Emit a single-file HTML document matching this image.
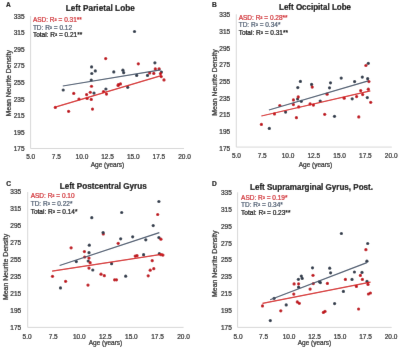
<!DOCTYPE html>
<html><head><meta charset="utf-8"><style>
html,body{margin:0;padding:0;background:#fff;width:400px;height:348px;overflow:hidden}
svg{display:block;font-family:'Liberation Sans',sans-serif;will-change:transform}
text{font-family:'Liberation Sans',sans-serif}
</style></head><body>
<svg width="400" height="348" viewBox="0 0 400 348">
<defs><filter id="bl" x="0" y="0" width="400" height="348" filterUnits="userSpaceOnUse"><feConvolveMatrix order="3" kernelMatrix="0 1 0 1 16 1 0 1 0" divisor="20" edgeMode="duplicate"/></filter></defs>
<g filter="url(#bl)">
<rect width="400" height="348" fill="#fff"/>
<text x="6.0" y="7.4" font-size="6.6" font-weight="bold" fill="#000" stroke="#000" stroke-width="0.15">A</text>
<text x="100.25" y="10.5" font-size="8.8" font-weight="bold" fill="#000" stroke="#000" stroke-width="0.2" text-anchor="middle" textLength="69" lengthAdjust="spacingAndGlyphs">Left Parietal Lobe</text>
<line x1="30.6" y1="16" x2="30.6" y2="148.5" stroke="#d4d4d4" stroke-width="0.9"/>
<line x1="30.6" y1="148.5" x2="184" y2="148.5" stroke="#d4d4d4" stroke-width="0.9"/>
<text x="24.6" y="18.63" font-size="6.5" fill="#222222" stroke="#222222" stroke-width="0.22" text-anchor="end">335</text>
<text x="24.6" y="35.22" font-size="6.5" fill="#222222" stroke="#222222" stroke-width="0.22" text-anchor="end">315</text>
<text x="24.6" y="51.81" font-size="6.5" fill="#222222" stroke="#222222" stroke-width="0.22" text-anchor="end">295</text>
<text x="24.6" y="68.40" font-size="6.5" fill="#222222" stroke="#222222" stroke-width="0.22" text-anchor="end">275</text>
<text x="24.6" y="84.99" font-size="6.5" fill="#222222" stroke="#222222" stroke-width="0.22" text-anchor="end">255</text>
<text x="24.6" y="101.58" font-size="6.5" fill="#222222" stroke="#222222" stroke-width="0.22" text-anchor="end">235</text>
<text x="24.6" y="118.17" font-size="6.5" fill="#222222" stroke="#222222" stroke-width="0.22" text-anchor="end">215</text>
<text x="24.6" y="134.76" font-size="6.5" fill="#222222" stroke="#222222" stroke-width="0.22" text-anchor="end">195</text>
<text x="24.6" y="151.35" font-size="6.5" fill="#222222" stroke="#222222" stroke-width="0.22" text-anchor="end">175</text>
<text x="30.65" y="159.13" font-size="6.5" fill="#222222" stroke="#222222" stroke-width="0.22" text-anchor="middle">5.0</text>
<text x="56.29" y="159.13" font-size="6.5" fill="#222222" stroke="#222222" stroke-width="0.22" text-anchor="middle">7.5</text>
<text x="81.93" y="159.13" font-size="6.5" fill="#222222" stroke="#222222" stroke-width="0.22" text-anchor="middle">10.0</text>
<text x="107.57" y="159.13" font-size="6.5" fill="#222222" stroke="#222222" stroke-width="0.22" text-anchor="middle">12.5</text>
<text x="133.21" y="159.13" font-size="6.5" fill="#222222" stroke="#222222" stroke-width="0.22" text-anchor="middle">15.0</text>
<text x="158.85" y="159.13" font-size="6.5" fill="#222222" stroke="#222222" stroke-width="0.22" text-anchor="middle">17.5</text>
<text x="184.49" y="159.13" font-size="6.5" fill="#222222" stroke="#222222" stroke-width="0.22" text-anchor="middle">20.0</text>
<text x="107.5" y="166.83" font-size="6.5" fill="#222222" stroke="#222222" stroke-width="0.22" text-anchor="middle">Age (years)</text>
<text transform="translate(10.93,83.3) rotate(-90)" x="0" y="0" font-size="6.9" fill="#222222" stroke="#222222" stroke-width="0.22" text-anchor="middle">Mean Neurite Density</text>
<text x="32.9" y="22.2" font-size="6.5" fill="#d0242a" stroke="#d0242a" stroke-width="0.22">ASD: R² = 0.31**</text>
<text x="32.9" y="29.6" font-size="6.5" fill="#44546a" stroke="#44546a" stroke-width="0.22">TD: R² = 0.12</text>
<text x="32.9" y="36.8" font-size="6.5" fill="#000" stroke="#000" stroke-width="0.22">Total: R² = 0.21**</text>
<circle cx="91.6" cy="66.9" r="1.6" fill="#323d4d"/>
<circle cx="95.3" cy="70.9" r="1.6" fill="#323d4d"/>
<circle cx="91.8" cy="73.5" r="1.6" fill="#323d4d"/>
<circle cx="113.8" cy="71.9" r="1.6" fill="#323d4d"/>
<circle cx="91.25" cy="80" r="1.6" fill="#323d4d"/>
<circle cx="63.2" cy="90" r="1.6" fill="#323d4d"/>
<circle cx="94" cy="93.1" r="1.6" fill="#323d4d"/>
<circle cx="105.9" cy="89" r="1.6" fill="#323d4d"/>
<circle cx="134.5" cy="31.5" r="1.6" fill="#323d4d"/>
<circle cx="154.9" cy="62.8" r="1.6" fill="#323d4d"/>
<circle cx="122.9" cy="70.2" r="1.6" fill="#323d4d"/>
<circle cx="123.7" cy="72.7" r="1.6" fill="#323d4d"/>
<circle cx="136.7" cy="75.4" r="1.6" fill="#323d4d"/>
<circle cx="147.5" cy="75.4" r="1.6" fill="#323d4d"/>
<circle cx="161.4" cy="72.1" r="1.6" fill="#323d4d"/>
<circle cx="127.7" cy="87.3" r="1.6" fill="#323d4d"/>
<circle cx="105.7" cy="58.6" r="1.6" fill="#c0141e"/>
<circle cx="91.5" cy="86.25" r="1.6" fill="#c0141e"/>
<circle cx="73.75" cy="93.4" r="1.6" fill="#c0141e"/>
<circle cx="90.25" cy="92.25" r="1.6" fill="#c0141e"/>
<circle cx="86.6" cy="94.6" r="1.6" fill="#c0141e"/>
<circle cx="79" cy="99" r="1.6" fill="#c0141e"/>
<circle cx="87.1" cy="98.4" r="1.6" fill="#c0141e"/>
<circle cx="91.25" cy="99.4" r="1.6" fill="#c0141e"/>
<circle cx="103.5" cy="91.5" r="1.6" fill="#c0141e"/>
<circle cx="106.5" cy="94.1" r="1.6" fill="#c0141e"/>
<circle cx="118.1" cy="85.4" r="1.6" fill="#c0141e"/>
<circle cx="92.5" cy="109.1" r="1.6" fill="#c0141e"/>
<circle cx="55.3" cy="107.4" r="1.6" fill="#c0141e"/>
<circle cx="68.6" cy="111.3" r="1.6" fill="#c0141e"/>
<circle cx="138.3" cy="63.8" r="1.6" fill="#c0141e"/>
<circle cx="155.3" cy="68.9" r="1.6" fill="#c0141e"/>
<circle cx="159.1" cy="68.8" r="1.6" fill="#c0141e"/>
<circle cx="149.7" cy="72.9" r="1.6" fill="#c0141e"/>
<circle cx="153.8" cy="73.4" r="1.6" fill="#c0141e"/>
<circle cx="160.5" cy="73.6" r="1.6" fill="#c0141e"/>
<circle cx="161.2" cy="76.6" r="1.6" fill="#c0141e"/>
<circle cx="164" cy="79.9" r="1.6" fill="#c0141e"/>
<circle cx="118.4" cy="84.7" r="1.6" fill="#c0141e"/>
<circle cx="120.5" cy="83.9" r="1.6" fill="#c0141e"/>
<line x1="62.8" y1="86" x2="160.7" y2="69.8" stroke="#44546a" stroke-width="1.2"/>
<line x1="54.4" y1="107.4" x2="161.2" y2="75.6" stroke="#d41a1a" stroke-width="1.2"/>
<text x="212" y="7.4" font-size="6.6" font-weight="bold" fill="#000" stroke="#000" stroke-width="0.15">B</text>
<text x="315" y="10.35" font-size="8.8" font-weight="bold" fill="#000" stroke="#000" stroke-width="0.2" text-anchor="middle" textLength="72" lengthAdjust="spacingAndGlyphs">Left Occipital Lobe</text>
<line x1="236.3" y1="14.2" x2="236.3" y2="147.1" stroke="#d4d4d4" stroke-width="0.9"/>
<line x1="236.3" y1="147.1" x2="391.8" y2="147.1" stroke="#d4d4d4" stroke-width="0.9"/>
<text x="230.2" y="17.33" font-size="6.5" fill="#222222" stroke="#222222" stroke-width="0.22" text-anchor="end">335</text>
<text x="230.2" y="33.98" font-size="6.5" fill="#222222" stroke="#222222" stroke-width="0.22" text-anchor="end">315</text>
<text x="230.2" y="50.63" font-size="6.5" fill="#222222" stroke="#222222" stroke-width="0.22" text-anchor="end">295</text>
<text x="230.2" y="67.28" font-size="6.5" fill="#222222" stroke="#222222" stroke-width="0.22" text-anchor="end">275</text>
<text x="230.2" y="83.93" font-size="6.5" fill="#222222" stroke="#222222" stroke-width="0.22" text-anchor="end">255</text>
<text x="230.2" y="100.58" font-size="6.5" fill="#222222" stroke="#222222" stroke-width="0.22" text-anchor="end">235</text>
<text x="230.2" y="117.23" font-size="6.5" fill="#222222" stroke="#222222" stroke-width="0.22" text-anchor="end">215</text>
<text x="230.2" y="133.88" font-size="6.5" fill="#222222" stroke="#222222" stroke-width="0.22" text-anchor="end">195</text>
<text x="230.2" y="150.53" font-size="6.5" fill="#222222" stroke="#222222" stroke-width="0.22" text-anchor="end">175</text>
<text x="236.40" y="157.83" font-size="6.5" fill="#222222" stroke="#222222" stroke-width="0.22" text-anchor="middle">5.0</text>
<text x="262.20" y="157.83" font-size="6.5" fill="#222222" stroke="#222222" stroke-width="0.22" text-anchor="middle">7.5</text>
<text x="288.00" y="157.83" font-size="6.5" fill="#222222" stroke="#222222" stroke-width="0.22" text-anchor="middle">10.0</text>
<text x="313.80" y="157.83" font-size="6.5" fill="#222222" stroke="#222222" stroke-width="0.22" text-anchor="middle">12.5</text>
<text x="339.60" y="157.83" font-size="6.5" fill="#222222" stroke="#222222" stroke-width="0.22" text-anchor="middle">15.0</text>
<text x="365.40" y="157.83" font-size="6.5" fill="#222222" stroke="#222222" stroke-width="0.22" text-anchor="middle">17.5</text>
<text x="391.20" y="157.83" font-size="6.5" fill="#222222" stroke="#222222" stroke-width="0.22" text-anchor="middle">20.0</text>
<text x="315.5" y="167.08" font-size="6.5" fill="#222222" stroke="#222222" stroke-width="0.22" text-anchor="middle">Age (years)</text>
<text transform="translate(217.03,82.5) rotate(-90)" x="0" y="0" font-size="6.9" fill="#222222" stroke="#222222" stroke-width="0.22" text-anchor="middle">Mean Neurite Density</text>
<text x="238.7" y="19.9" font-size="6.5" fill="#d0242a" stroke="#d0242a" stroke-width="0.22">ASD: R² = 0.28**</text>
<text x="238.7" y="26.9" font-size="6.5" fill="#44546a" stroke="#44546a" stroke-width="0.22">TD: R² = 0.34*</text>
<text x="238.7" y="34.5" font-size="6.5" fill="#000" stroke="#000" stroke-width="0.22">Total: R² = 0.31**</text>
<circle cx="269.3" cy="128.4" r="1.6" fill="#323d4d"/>
<circle cx="285.6" cy="112.1" r="1.6" fill="#323d4d"/>
<circle cx="297.8" cy="87.6" r="1.6" fill="#323d4d"/>
<circle cx="300.4" cy="81.4" r="1.6" fill="#323d4d"/>
<circle cx="311.6" cy="84.4" r="1.6" fill="#323d4d"/>
<circle cx="297.6" cy="99" r="1.6" fill="#323d4d"/>
<circle cx="301.3" cy="101.3" r="1.6" fill="#323d4d"/>
<circle cx="320.2" cy="101" r="1.6" fill="#323d4d"/>
<circle cx="330.5" cy="82.8" r="1.6" fill="#323d4d"/>
<circle cx="329.5" cy="87.8" r="1.6" fill="#323d4d"/>
<circle cx="341.2" cy="78.1" r="1.6" fill="#323d4d"/>
<circle cx="354.6" cy="81.6" r="1.6" fill="#323d4d"/>
<circle cx="362.3" cy="77.1" r="1.6" fill="#323d4d"/>
<circle cx="367.7" cy="78.7" r="1.6" fill="#323d4d"/>
<circle cx="368.3" cy="63.3" r="1.6" fill="#323d4d"/>
<circle cx="352.2" cy="98.8" r="1.6" fill="#323d4d"/>
<circle cx="367.3" cy="97.6" r="1.6" fill="#323d4d"/>
<circle cx="334.5" cy="116.3" r="1.6" fill="#323d4d"/>
<circle cx="261.4" cy="124.4" r="1.6" fill="#c0141e"/>
<circle cx="274.5" cy="113.9" r="1.6" fill="#c0141e"/>
<circle cx="279.8" cy="105.5" r="1.6" fill="#c0141e"/>
<circle cx="293.4" cy="99.9" r="1.6" fill="#c0141e"/>
<circle cx="298.2" cy="96.9" r="1.6" fill="#c0141e"/>
<circle cx="293.4" cy="104.6" r="1.6" fill="#c0141e"/>
<circle cx="298.7" cy="106.9" r="1.6" fill="#c0141e"/>
<circle cx="296.4" cy="117.7" r="1.6" fill="#c0141e"/>
<circle cx="312.2" cy="87.1" r="1.6" fill="#c0141e"/>
<circle cx="310.1" cy="103.9" r="1.6" fill="#c0141e"/>
<circle cx="313.4" cy="105.1" r="1.6" fill="#c0141e"/>
<circle cx="365.9" cy="65.5" r="1.6" fill="#c0141e"/>
<circle cx="327.1" cy="94.2" r="1.6" fill="#c0141e"/>
<circle cx="344.2" cy="98.2" r="1.6" fill="#c0141e"/>
<circle cx="356.6" cy="96.6" r="1.6" fill="#c0141e"/>
<circle cx="360.7" cy="90.6" r="1.6" fill="#c0141e"/>
<circle cx="362.7" cy="94.6" r="1.6" fill="#c0141e"/>
<circle cx="368.3" cy="89.2" r="1.6" fill="#c0141e"/>
<circle cx="368.9" cy="81.6" r="1.6" fill="#c0141e"/>
<circle cx="370.7" cy="102.3" r="1.6" fill="#c0141e"/>
<circle cx="324.7" cy="114.3" r="1.6" fill="#c0141e"/>
<circle cx="358.8" cy="116.9" r="1.6" fill="#c0141e"/>
<line x1="268.9" y1="110" x2="368.3" y2="80.8" stroke="#44546a" stroke-width="1.2"/>
<line x1="261.4" y1="116" x2="370.3" y2="90.8" stroke="#d41a1a" stroke-width="1.2"/>
<text x="6.2" y="185.7" font-size="6.6" font-weight="bold" fill="#000" stroke="#000" stroke-width="0.15">C</text>
<text x="103.2" y="188.8" font-size="8.8" font-weight="bold" fill="#000" stroke="#000" stroke-width="0.2" text-anchor="middle" textLength="87" lengthAdjust="spacingAndGlyphs">Left Postcentral Gyrus</text>
<line x1="27.7" y1="192" x2="27.7" y2="327.4" stroke="#d4d4d4" stroke-width="0.9"/>
<line x1="27.7" y1="327.4" x2="183.6" y2="327.4" stroke="#d4d4d4" stroke-width="0.9"/>
<text x="21.2" y="193.73" font-size="6.5" fill="#222222" stroke="#222222" stroke-width="0.22" text-anchor="end">335</text>
<text x="21.2" y="210.77" font-size="6.5" fill="#222222" stroke="#222222" stroke-width="0.22" text-anchor="end">315</text>
<text x="21.2" y="227.81" font-size="6.5" fill="#222222" stroke="#222222" stroke-width="0.22" text-anchor="end">295</text>
<text x="21.2" y="244.85" font-size="6.5" fill="#222222" stroke="#222222" stroke-width="0.22" text-anchor="end">275</text>
<text x="21.2" y="261.89" font-size="6.5" fill="#222222" stroke="#222222" stroke-width="0.22" text-anchor="end">255</text>
<text x="21.2" y="278.93" font-size="6.5" fill="#222222" stroke="#222222" stroke-width="0.22" text-anchor="end">235</text>
<text x="21.2" y="295.97" font-size="6.5" fill="#222222" stroke="#222222" stroke-width="0.22" text-anchor="end">215</text>
<text x="21.2" y="313.01" font-size="6.5" fill="#222222" stroke="#222222" stroke-width="0.22" text-anchor="end">195</text>
<text x="21.2" y="330.05" font-size="6.5" fill="#222222" stroke="#222222" stroke-width="0.22" text-anchor="end">175</text>
<text x="27.10" y="338.73" font-size="6.5" fill="#222222" stroke="#222222" stroke-width="0.22" text-anchor="middle">5.0</text>
<text x="53.18" y="338.73" font-size="6.5" fill="#222222" stroke="#222222" stroke-width="0.22" text-anchor="middle">7.5</text>
<text x="79.26" y="338.73" font-size="6.5" fill="#222222" stroke="#222222" stroke-width="0.22" text-anchor="middle">10.0</text>
<text x="105.34" y="338.73" font-size="6.5" fill="#222222" stroke="#222222" stroke-width="0.22" text-anchor="middle">12.5</text>
<text x="131.42" y="338.73" font-size="6.5" fill="#222222" stroke="#222222" stroke-width="0.22" text-anchor="middle">15.0</text>
<text x="157.50" y="338.73" font-size="6.5" fill="#222222" stroke="#222222" stroke-width="0.22" text-anchor="middle">17.5</text>
<text x="183.58" y="338.73" font-size="6.5" fill="#222222" stroke="#222222" stroke-width="0.22" text-anchor="middle">20.0</text>
<text x="105.5" y="344.83" font-size="6.5" fill="#222222" stroke="#222222" stroke-width="0.22" text-anchor="middle">Age (years)</text>
<text transform="translate(7.83,266.9) rotate(-90)" x="0" y="0" font-size="6.9" fill="#222222" stroke="#222222" stroke-width="0.22" text-anchor="middle">Mean Neurite Density</text>
<text x="30.7" y="198.4" font-size="6.5" fill="#d0242a" stroke="#d0242a" stroke-width="0.22">ASD: R² = 0.10</text>
<text x="30.7" y="206.0" font-size="6.5" fill="#44546a" stroke="#44546a" stroke-width="0.22">TD: R² = 0.22*</text>
<text x="30.7" y="213.6" font-size="6.5" fill="#000" stroke="#000" stroke-width="0.22">Total: R² = 0.14*</text>
<circle cx="91.8" cy="217.7" r="1.6" fill="#323d4d"/>
<circle cx="89.3" cy="245.2" r="1.6" fill="#323d4d"/>
<circle cx="89" cy="252.7" r="1.6" fill="#323d4d"/>
<circle cx="88.2" cy="261" r="1.6" fill="#323d4d"/>
<circle cx="76.3" cy="261.6" r="1.6" fill="#323d4d"/>
<circle cx="92.8" cy="270" r="1.6" fill="#323d4d"/>
<circle cx="60.5" cy="287.9" r="1.6" fill="#323d4d"/>
<circle cx="158.9" cy="201.5" r="1.6" fill="#323d4d"/>
<circle cx="121.7" cy="212.5" r="1.6" fill="#323d4d"/>
<circle cx="153.2" cy="225.6" r="1.6" fill="#323d4d"/>
<circle cx="120.7" cy="238.8" r="1.6" fill="#323d4d"/>
<circle cx="132.7" cy="236.8" r="1.6" fill="#323d4d"/>
<circle cx="145.8" cy="239.8" r="1.6" fill="#323d4d"/>
<circle cx="158.9" cy="237.6" r="1.6" fill="#323d4d"/>
<circle cx="143.6" cy="254.7" r="1.6" fill="#323d4d"/>
<circle cx="159.3" cy="253.7" r="1.6" fill="#323d4d"/>
<circle cx="111.6" cy="263.7" r="1.6" fill="#323d4d"/>
<circle cx="125.7" cy="276.2" r="1.6" fill="#323d4d"/>
<circle cx="71.1" cy="247.8" r="1.6" fill="#c0141e"/>
<circle cx="84.4" cy="251.6" r="1.6" fill="#c0141e"/>
<circle cx="84.7" cy="257" r="1.6" fill="#c0141e"/>
<circle cx="89" cy="258.1" r="1.6" fill="#c0141e"/>
<circle cx="90.1" cy="262.7" r="1.6" fill="#c0141e"/>
<circle cx="89" cy="268.1" r="1.6" fill="#c0141e"/>
<circle cx="52.5" cy="276.3" r="1.6" fill="#c0141e"/>
<circle cx="65.6" cy="281.3" r="1.6" fill="#c0141e"/>
<circle cx="88" cy="285.1" r="1.6" fill="#c0141e"/>
<circle cx="101" cy="274.2" r="1.6" fill="#c0141e"/>
<circle cx="104.3" cy="275.7" r="1.6" fill="#c0141e"/>
<circle cx="103.3" cy="234.0" r="1.6" fill="#c0141e"/>
<circle cx="157.7" cy="214.5" r="1.6" fill="#c0141e"/>
<circle cx="118.2" cy="243.3" r="1.6" fill="#c0141e"/>
<circle cx="160.9" cy="239.2" r="1.6" fill="#c0141e"/>
<circle cx="135.2" cy="256.1" r="1.6" fill="#c0141e"/>
<circle cx="137" cy="255.7" r="1.6" fill="#c0141e"/>
<circle cx="160.9" cy="254.7" r="1.6" fill="#c0141e"/>
<circle cx="162.9" cy="255.1" r="1.6" fill="#c0141e"/>
<circle cx="152.2" cy="260.7" r="1.6" fill="#c0141e"/>
<circle cx="153.8" cy="268.7" r="1.6" fill="#c0141e"/>
<circle cx="150.2" cy="270.2" r="1.6" fill="#c0141e"/>
<circle cx="148.2" cy="275.8" r="1.6" fill="#c0141e"/>
<circle cx="114.6" cy="279.8" r="1.6" fill="#c0141e"/>
<circle cx="116.5" cy="279.8" r="1.6" fill="#c0141e"/>
<circle cx="103.1" cy="232.6" r="1.6" fill="#323d4d"/>
<line x1="59.6" y1="265.5" x2="159.3" y2="232.6" stroke="#44546a" stroke-width="1.2"/>
<line x1="52.1" y1="271.1" x2="162.9" y2="254.1" stroke="#d41a1a" stroke-width="1.2"/>
<text x="212" y="185.9" font-size="6.6" font-weight="bold" fill="#000" stroke="#000" stroke-width="0.15">D</text>
<text x="311.5" y="190" font-size="8.8" font-weight="bold" fill="#000" stroke="#000" stroke-width="0.2" text-anchor="middle" textLength="123" lengthAdjust="spacingAndGlyphs">Left Supramarginal Gyrus, Post.</text>
<line x1="237.6" y1="192.3" x2="237.6" y2="327.4" stroke="#d4d4d4" stroke-width="0.9"/>
<line x1="237.6" y1="327.4" x2="391.7" y2="327.4" stroke="#d4d4d4" stroke-width="0.9"/>
<text x="231.8" y="195.03" font-size="6.5" fill="#222222" stroke="#222222" stroke-width="0.22" text-anchor="end">335</text>
<text x="231.8" y="211.89" font-size="6.5" fill="#222222" stroke="#222222" stroke-width="0.22" text-anchor="end">315</text>
<text x="231.8" y="228.75" font-size="6.5" fill="#222222" stroke="#222222" stroke-width="0.22" text-anchor="end">295</text>
<text x="231.8" y="245.61" font-size="6.5" fill="#222222" stroke="#222222" stroke-width="0.22" text-anchor="end">275</text>
<text x="231.8" y="262.47" font-size="6.5" fill="#222222" stroke="#222222" stroke-width="0.22" text-anchor="end">255</text>
<text x="231.8" y="279.33" font-size="6.5" fill="#222222" stroke="#222222" stroke-width="0.22" text-anchor="end">235</text>
<text x="231.8" y="296.19" font-size="6.5" fill="#222222" stroke="#222222" stroke-width="0.22" text-anchor="end">215</text>
<text x="231.8" y="313.05" font-size="6.5" fill="#222222" stroke="#222222" stroke-width="0.22" text-anchor="end">195</text>
<text x="231.8" y="329.91" font-size="6.5" fill="#222222" stroke="#222222" stroke-width="0.22" text-anchor="end">175</text>
<text x="238.00" y="338.83" font-size="6.5" fill="#222222" stroke="#222222" stroke-width="0.22" text-anchor="middle">5.0</text>
<text x="263.50" y="338.83" font-size="6.5" fill="#222222" stroke="#222222" stroke-width="0.22" text-anchor="middle">7.5</text>
<text x="289.00" y="338.83" font-size="6.5" fill="#222222" stroke="#222222" stroke-width="0.22" text-anchor="middle">10.0</text>
<text x="314.50" y="338.83" font-size="6.5" fill="#222222" stroke="#222222" stroke-width="0.22" text-anchor="middle">12.5</text>
<text x="340.00" y="338.83" font-size="6.5" fill="#222222" stroke="#222222" stroke-width="0.22" text-anchor="middle">15.0</text>
<text x="365.50" y="338.83" font-size="6.5" fill="#222222" stroke="#222222" stroke-width="0.22" text-anchor="middle">17.5</text>
<text x="391.00" y="338.83" font-size="6.5" fill="#222222" stroke="#222222" stroke-width="0.22" text-anchor="middle">20.0</text>
<text x="314.5" y="344.63" font-size="6.5" fill="#222222" stroke="#222222" stroke-width="0.22" text-anchor="middle">Age (years)</text>
<text transform="translate(217.03,263.8) rotate(-90)" x="0" y="0" font-size="6.9" fill="#222222" stroke="#222222" stroke-width="0.22" text-anchor="middle">Mean Neurite Density</text>
<text x="241.1" y="200.1" font-size="6.5" fill="#d0242a" stroke="#d0242a" stroke-width="0.22">ASD: R² = 0.19*</text>
<text x="241.1" y="207.3" font-size="6.5" fill="#44546a" stroke="#44546a" stroke-width="0.22">TD: R² = 0.34*</text>
<text x="241.1" y="215.3" font-size="6.5" fill="#000" stroke="#000" stroke-width="0.22">Total: R² = 0.23**</text>
<circle cx="312.5" cy="267.8" r="1.6" fill="#323d4d"/>
<circle cx="301.3" cy="276.1" r="1.6" fill="#323d4d"/>
<circle cx="302.2" cy="278.4" r="1.6" fill="#323d4d"/>
<circle cx="298.4" cy="279.3" r="1.6" fill="#323d4d"/>
<circle cx="298.6" cy="287.2" r="1.6" fill="#323d4d"/>
<circle cx="274.1" cy="298.3" r="1.6" fill="#323d4d"/>
<circle cx="286.2" cy="304.9" r="1.6" fill="#323d4d"/>
<circle cx="270.3" cy="320.6" r="1.6" fill="#323d4d"/>
<circle cx="319.4" cy="281.8" r="1.6" fill="#323d4d"/>
<circle cx="341.4" cy="233.5" r="1.6" fill="#323d4d"/>
<circle cx="367.7" cy="243.5" r="1.6" fill="#323d4d"/>
<circle cx="366.9" cy="261.2" r="1.6" fill="#323d4d"/>
<circle cx="330.6" cy="272.8" r="1.6" fill="#323d4d"/>
<circle cx="329.7" cy="268.2" r="1.6" fill="#323d4d"/>
<circle cx="354.4" cy="272" r="1.6" fill="#323d4d"/>
<circle cx="362" cy="272.4" r="1.6" fill="#323d4d"/>
<circle cx="352" cy="279.4" r="1.6" fill="#323d4d"/>
<circle cx="320.4" cy="282.6" r="1.6" fill="#323d4d"/>
<circle cx="367" cy="281.4" r="1.6" fill="#323d4d"/>
<circle cx="343.4" cy="291.4" r="1.6" fill="#323d4d"/>
<circle cx="334.6" cy="303.6" r="1.6" fill="#323d4d"/>
<circle cx="313" cy="275.3" r="1.6" fill="#c0141e"/>
<circle cx="294.1" cy="283.9" r="1.6" fill="#c0141e"/>
<circle cx="298.6" cy="283.8" r="1.6" fill="#c0141e"/>
<circle cx="313.3" cy="283.6" r="1.6" fill="#c0141e"/>
<circle cx="310.1" cy="289.1" r="1.6" fill="#c0141e"/>
<circle cx="293.8" cy="294.1" r="1.6" fill="#c0141e"/>
<circle cx="297.3" cy="301.9" r="1.6" fill="#c0141e"/>
<circle cx="299.3" cy="303.3" r="1.6" fill="#c0141e"/>
<circle cx="262.5" cy="305.9" r="1.6" fill="#c0141e"/>
<circle cx="280.8" cy="310.8" r="1.6" fill="#c0141e"/>
<circle cx="365.9" cy="249.7" r="1.6" fill="#c0141e"/>
<circle cx="360.4" cy="275.4" r="1.6" fill="#c0141e"/>
<circle cx="345.4" cy="279.4" r="1.6" fill="#c0141e"/>
<circle cx="362.4" cy="279.4" r="1.6" fill="#c0141e"/>
<circle cx="327.4" cy="283.4" r="1.6" fill="#c0141e"/>
<circle cx="368" cy="284.4" r="1.6" fill="#c0141e"/>
<circle cx="356.4" cy="286.4" r="1.6" fill="#c0141e"/>
<circle cx="368.4" cy="294" r="1.6" fill="#c0141e"/>
<circle cx="370.4" cy="293" r="1.6" fill="#c0141e"/>
<circle cx="323.4" cy="312.4" r="1.6" fill="#c0141e"/>
<circle cx="325" cy="311.4" r="1.6" fill="#c0141e"/>
<circle cx="358.6" cy="309" r="1.6" fill="#c0141e"/>
<line x1="270.1" y1="299.7" x2="366.9" y2="262.6" stroke="#44546a" stroke-width="1.2"/>
<line x1="262.5" y1="303.3" x2="370.5" y2="282.2" stroke="#d41a1a" stroke-width="1.2"/>
</g>
</svg></body></html>
